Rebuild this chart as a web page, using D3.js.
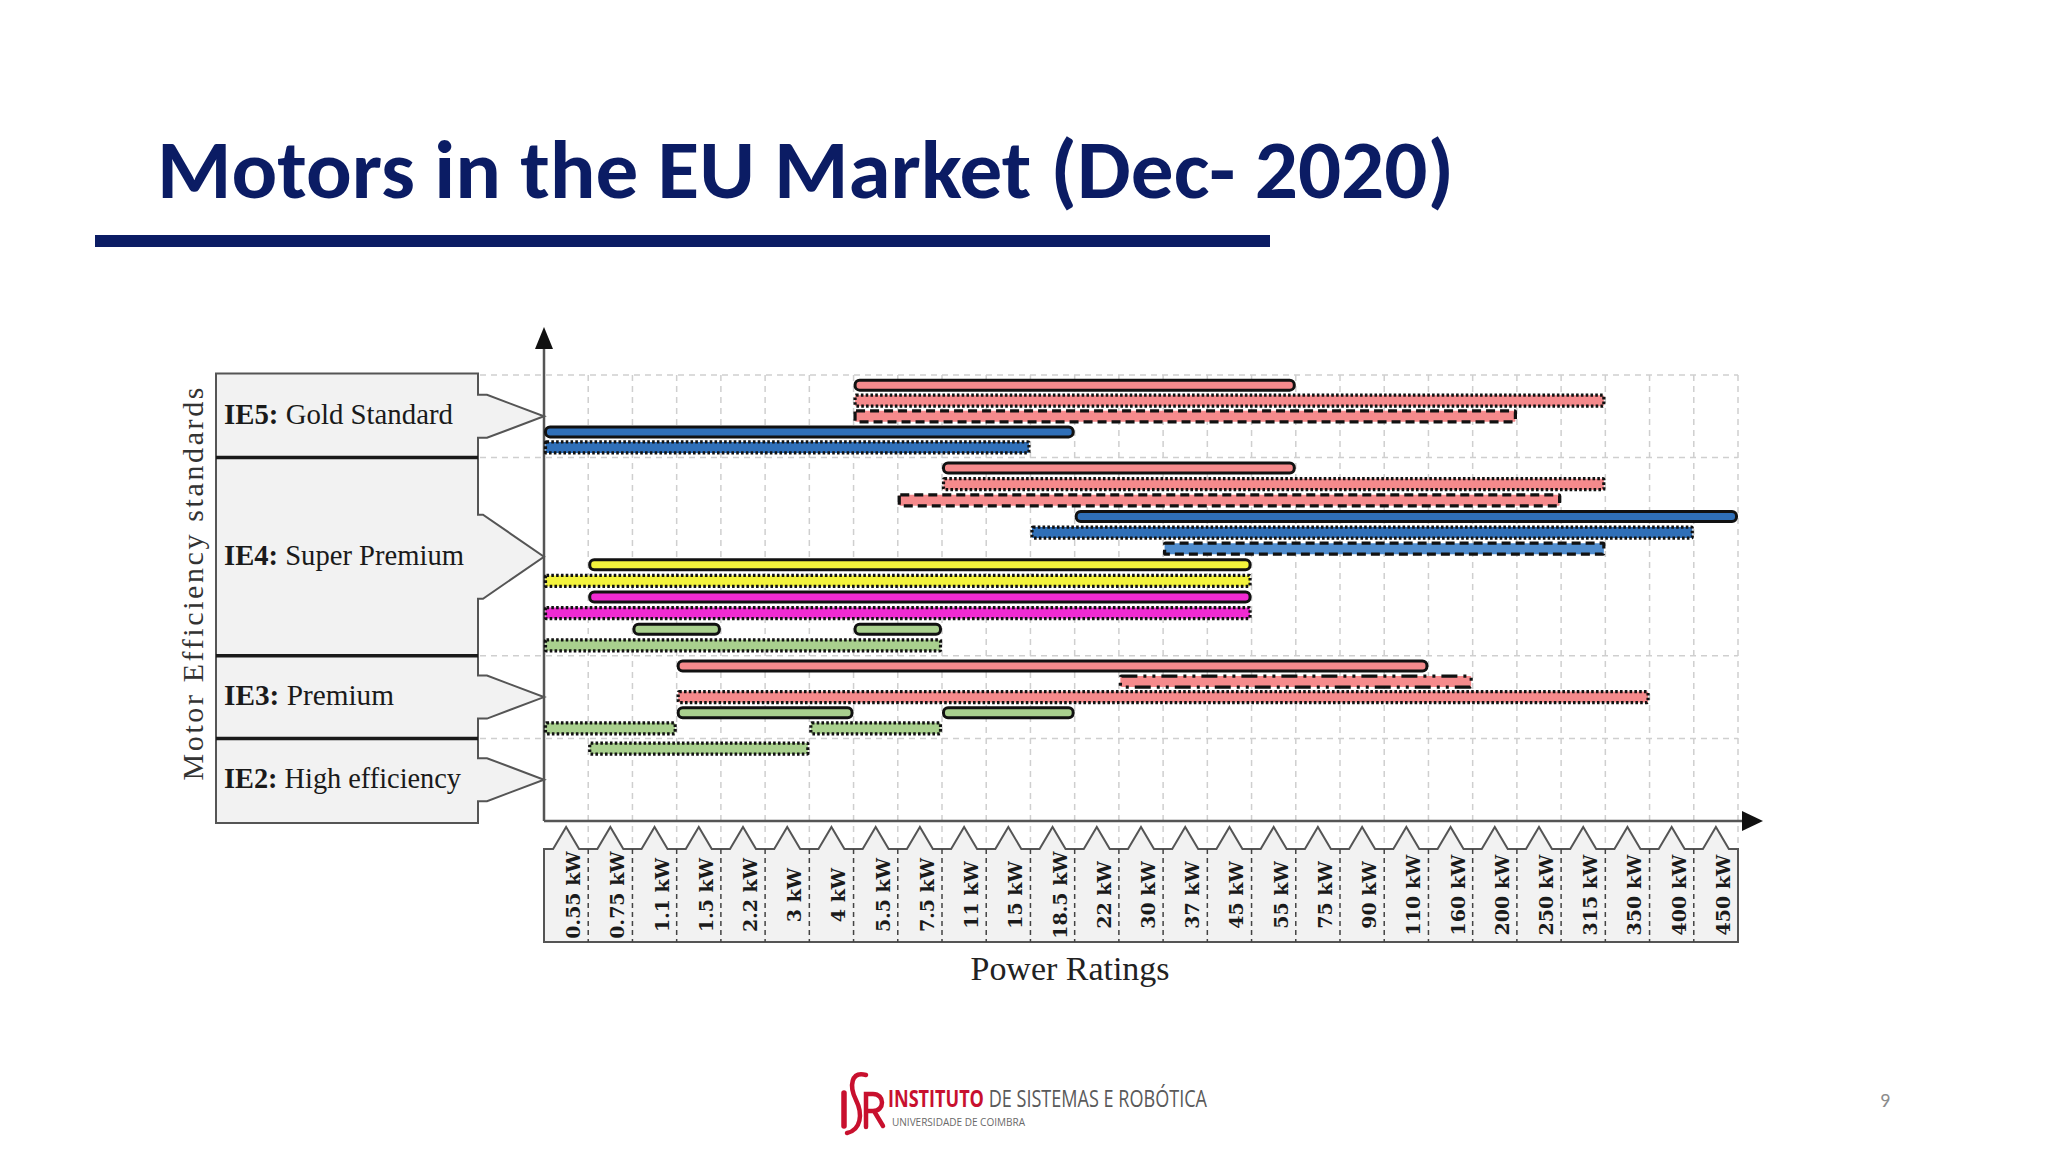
<!DOCTYPE html>
<html><head><meta charset="utf-8">
<script src="https://cdn.jsdelivr.net/npm/d3@7/dist/d3.min.js"></script>
<style>body{margin:0;background:#fff}svg{display:block}</style>
</head><body>
<script>
// ---------- data ----------
const categories = ["0.55 kW","0.75 kW","1.1 kW","1.5 kW","2.2 kW","3 kW","4 kW","5.5 kW","7.5 kW","11 kW","15 kW","18.5 kW","22 kW","30 kW","37 kW","45 kW","55 kW","75 kW","90 kW","110 kW","160 kW","200 kW","250 kW","315 kW","350 kW","400 kW","450 kW"];
const standards = ["IE5","IE4","IE3","IE2"];
const standardNames = ["Gold Standard","Super Premium","Premium","High efficiency"];
const standardRows = [5,12,5,5];

const barStandard = ["IE5","IE5","IE5","IE5","IE5",
  "IE4","IE4","IE4","IE4","IE4","IE4","IE4","IE4","IE4","IE4","IE4","IE4","IE4",
  "IE3","IE3","IE3","IE3","IE3","IE3","IE3",
  "IE2"];
const barRow = [0,1,2,3,4,
  0,1,2,3,4,5,6,7,8,9,10,10,11,
  0,1,2,3,3,4,4,
  0];
const barFrom = ["5.5 kW","5.5 kW","5.5 kW","0.55 kW","0.55 kW",
  "11 kW","11 kW","7.5 kW","22 kW","18.5 kW","37 kW","0.75 kW","0.55 kW","0.75 kW","0.55 kW","1.1 kW","5.5 kW","0.55 kW",
  "1.5 kW","30 kW","1.5 kW","1.5 kW","11 kW","0.55 kW","4 kW",
  "0.75 kW"];
const barTo = ["55 kW","315 kW","200 kW","18.5 kW","15 kW",
  "55 kW","315 kW","250 kW","450 kW","400 kW","315 kW","45 kW","45 kW","45 kW","45 kW","1.5 kW","7.5 kW","7.5 kW",
  "110 kW","160 kW","350 kW","4 kW","18.5 kW","1.1 kW","7.5 kW",
  "3 kW"];
const barTech = ["A","A","A","B","B",
  "A","A","A","B","B","C","D","D","E","E","F","F","F",
  "A","A","A","F","F","F","F",
  "F"];
const barLine = ["solid","dotted","dashed","solid","dotted",
  "solid","dotted","dashed","solid","dotted","dashed","solid","dotted","solid","dotted","solid","solid","dotted",
  "solid","dashdot","dotted","solid","solid","dotted","dotted",
  "dotted"];

// ---------- styles ----------
const techColor = {A:"#f58a8c",B:"#2f6fb8",C:"#4f8ccd",D:"#f3f33c",E:"#f02ad2",F:"#a9d08e"};
const lineDash = {solid:null,dotted:"2.6 2.2",dashed:"9 5",dashdot:"16 6 3 6 3 6"};

const W=2048,H=1152;
const svg = d3.select("body").append("svg").attr("width",W).attr("height",H);
svg.append("rect").attr("width",W).attr("height",H).attr("fill","#fff");

// title
svg.append("text").attr("x",157).attr("y",198)
  .attr("font-family","Carlito, Calibri, Lato, 'Open Sans', sans-serif").attr("font-weight",700)
  .attr("font-size",82).attr("fill","#0b1c64")
  .attr("textLength",1297).attr("lengthAdjust","spacingAndGlyphs")
  .text("Motors in the EU Market (Dec- 2020)");
svg.append("rect").attr("x",95).attr("y",235).attr("width",1175).attr("height",12).attr("fill","#0b1c64");

// ---------- scales ----------
const plot = {left:544, right:1738, top:375, bottom:821};
const x = d3.scaleBand().domain(categories).range([plot.left, plot.right]);
const bw = x.bandwidth();
const cum = d3.cumsum(standardRows);
const slotY = d3.scaleLinear().domain([0, d3.sum(standardRows)]).range([plot.top, plot.bottom]);
const groupTop = standards.map((s,i)=> slotY(i?cum[i-1]:0));
const groupBot = standards.map((s,i)=> slotY(cum[i]));
const rowScale = {};
standards.forEach((s,i)=>{
  rowScale[s] = d3.scalePoint().domain(d3.range(standardRows[i])).range([groupTop[i], groupBot[i]]).padding(0.65);
});

// ---------- grid ----------
const grid = svg.append("g").attr("stroke","#cfcfcf").attr("stroke-width",1.5).attr("stroke-dasharray","6 5").attr("fill","none");
categories.slice(1).forEach(c=>{
  grid.append("line").attr("x1",x(c)).attr("x2",x(c)).attr("y1",plot.top).attr("y2",849);
});
grid.append("line").attr("x1",plot.right).attr("x2",plot.right).attr("y1",plot.top).attr("y2",849);
groupTop.forEach(y=>{
  grid.append("line").attr("x1",480).attr("x2",plot.right).attr("y1",y).attr("y2",y);
});

// ---------- left panel ----------
const panelL = 216, panelR = 478, tipX = plot.left;
const panelBottom = plot.bottom + 2;
const panel = svg.append("g");
standards.forEach((s,i)=>{
  const t = i===0 ? plot.top-1.5 : groupTop[i];
  const b = i===standards.length-1 ? panelBottom : groupBot[i];
  const c = (groupTop[i]+groupBot[i])/2;
  const h = standardRows[i] > 6 ? 42 : 21.5;
  const step = standardRows[i] > 6 ? 5 : 9;
  const d = `M${panelL},${t} L${panelR},${t} L${panelR},${c-h} L${panelR+step},${c-h} L${tipX},${c} L${panelR+step},${c+h} L${panelR},${c+h} L${panelR},${b} L${panelL},${b} Z`;
  panel.append("path").attr("d",d).attr("fill","#f2f2f2").attr("stroke","#555").attr("stroke-width",2);
  const tx = panel.append("text").attr("x",224).attr("y",c+8)
    .attr("font-family","'Liberation Serif', 'Times New Roman', serif").attr("font-size",30).attr("fill","#1a1a1a")
    .attr("textLength",[229,240,170,237][i]).attr("lengthAdjust","spacingAndGlyphs");
  tx.append("tspan").attr("font-weight",700).text(s+": ");
  tx.append("tspan").text(standardNames[i]);
});
groupTop.slice(1).forEach(y=>{
  panel.append("line").attr("x1",panelL).attr("x2",panelR).attr("y1",y).attr("y2",y).attr("stroke","#1a1a1a").attr("stroke-width",3.5);
});
svg.append("text").attr("transform",`translate(203,584) rotate(-90)`)
  .attr("text-anchor","middle").attr("font-family","'Liberation Serif', serif").attr("font-size",30)
  .attr("fill","#333").attr("textLength",393).attr("lengthAdjust","spacing")
  .text("Motor Efficiency standards");

// ---------- x label boxes ----------
let p = `M${plot.left},942 L${plot.left},849`;
categories.forEach(c=>{
  const cx = x(c)+bw/2;
  p += ` L${cx-13},849 L${cx},827 L${cx+13},849`;
});
p += ` L${plot.right},849 L${plot.right},942 Z`;
svg.append("path").attr("d",p).attr("fill","#f2f2f2").attr("stroke","#555").attr("stroke-width",2);
categories.slice(1).forEach(c=>{
  svg.append("line").attr("x1",x(c)).attr("x2",x(c)).attr("y1",849).attr("y2",942)
    .attr("stroke","#444").attr("stroke-width",1.5).attr("stroke-dasharray","5 4");
});
svg.append("g").selectAll("text").data(categories).join("text")
  .attr("transform",c=>`translate(${x(c)+bw/2},895) rotate(-90)`)
  .attr("text-anchor","middle").attr("dy",14)
  .attr("font-family","'DejaVu Serif', serif").attr("font-weight",700).attr("font-size",19).attr("fill","#1a1a1a")
  .text(c=>c);
svg.append("text").attr("x",1070).attr("y",980).attr("text-anchor","middle")
  .attr("font-family","'Liberation Serif', serif").attr("font-size",34).attr("fill","#222")
  .attr("textLength",199).attr("lengthAdjust","spacingAndGlyphs")
  .text("Power Ratings");

// ---------- axes ----------
const ax = svg.append("g").attr("stroke","#555").attr("stroke-width",2.5);
ax.append("line").attr("x1",plot.left).attr("x2",plot.left).attr("y1",plot.bottom).attr("y2",340);
ax.append("line").attr("x1",plot.left).attr("x2",1750).attr("y1",plot.bottom).attr("y2",plot.bottom);
svg.append("path").attr("d",`M${plot.left},327 L${plot.left-9},349 L${plot.left+9},349 Z`).attr("fill","#111");
svg.append("path").attr("d",`M1763,${plot.bottom} L1742,${plot.bottom-10} L1742,${plot.bottom+10} Z`).attr("fill","#111");

// ---------- bars ----------
const bars = d3.range(barStandard.length).map(i=>({
  std:barStandard[i], row:barRow[i], from:barFrom[i], to:barTo[i], tech:barTech[i], line:barLine[i]
}));
svg.append("g").selectAll("rect").data(bars).join("rect")
  .attr("x",d=>x(d.from)+1.5)
  .attr("width",d=>x(d.to)+bw-x(d.from)-3)
  .attr("y",d=>rowScale[d.std](d.row)-(d.line==="solid"?5:5.5))
  .attr("height",d=>d.line==="solid"?10:11)
  .attr("rx",d=>d.line==="solid"?4.5:1)
  .attr("fill",d=>techColor[d.tech])
  .attr("stroke","#111")
  .attr("stroke-width",d=>d.line==="solid"?3:3.2)
  .attr("stroke-dasharray",d=>lineDash[d.line]);

// ---------- footer ----------
const red = "#c8102e";
const logo = svg.append("g").attr("fill","none").attr("stroke",red).attr("stroke-linecap","round");
logo.append("line").attr("x1",844).attr("x2",844).attr("y1",1093).attr("y2",1126).attr("stroke-width",5.5);
logo.append("path").attr("d","M866,1075 C851,1071 849,1086 856,1100 C863,1114 861,1130 847,1133").attr("stroke-width",4.5);
logo.append("path").attr("d","M866,1127 L866,1094 L873,1094 C885,1094 885,1111 873,1111 L867,1111 M874,1111 L883,1126").attr("stroke-width",4.5);
const foot = svg.append("text").attr("x",888).attr("y",1107).attr("font-family","'Open Sans', sans-serif")
  .attr("font-size",23).attr("textLength",319).attr("lengthAdjust","spacingAndGlyphs");
foot.append("tspan").attr("font-weight",700).attr("fill",red).text("INSTITUTO");
foot.append("tspan").attr("fill","#5a5a5a").text(" DE SISTEMAS E ROBÓTICA");
svg.append("text").attr("x",892).attr("y",1126).attr("font-family","'Open Sans', sans-serif")
  .attr("font-size",10).attr("fill","#6a6a6a").attr("textLength",133).attr("lengthAdjust","spacingAndGlyphs").text("UNIVERSIDADE DE COIMBRA");
svg.append("text").attr("x",1885).attr("y",1107).attr("text-anchor","middle").attr("font-family","Calibri, Carlito, 'Open Sans', sans-serif")
  .attr("font-size",20).attr("fill","#8c8c8c").text("9");
</script>
</body></html>
